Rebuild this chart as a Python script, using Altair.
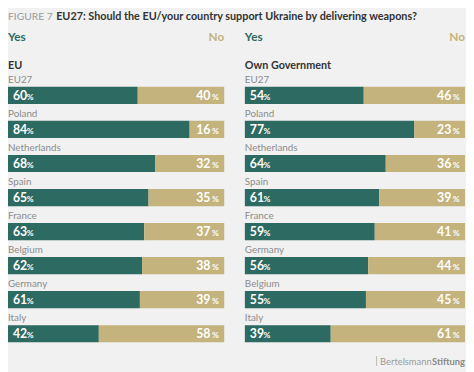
import altair as alt
import pandas as pd

# ---- data ----
eu_countries = ["EU27", "Poland", "Netherlands", "Spain", "France", "Belgium", "Germany", "Italy"]
eu_yes = [60, 84, 68, 65, 63, 62, 61, 42]
eu_no = [40, 16, 32, 35, 37, 38, 39, 58]

gov_countries = ["EU27", "Poland", "Netherlands", "Spain", "France", "Germany", "Belgium", "Italy"]
gov_yes = [54, 77, 64, 61, 59, 56, 55, 39]
gov_no = [46, 23, 36, 39, 41, 44, 45, 61]

panel_titles = ["EU", "Own Government"]
title_prefix = "FIGURE 7"
title_text = "EU27: Should the EU/your country support Ukraine by delivering weapons?"

TEAL = "#2d6a61"
TAN = "#c4b37c"
BG = "#f1f1f1"
FONT = "Lato"

rows = []
for panel, cs, ys, ns in [("EU", eu_countries, eu_yes, eu_no),
                          ("GOV", gov_countries, gov_yes, gov_no)]:
    for i, (c, y, n) in enumerate(zip(cs, ys, ns)):
        rows.append({"panel": panel, "row": i, "country": c, "yes": y, "no": n,
                     "start": 0, "mid": y, "end": y + n})
df = pd.DataFrame(rows)

yscale = alt.Scale(domain=list(range(8)), range=[77, 337], paddingInner=0.495, paddingOuter=0)
Y = alt.Y("row:O", scale=yscale, axis=None)


def panel(name, rng):
    base = alt.Chart(df).transform_filter(alt.datum.panel == name)
    xs = alt.Scale(domain=[0, 100], range=rng, nice=False, zero=False)

    def X(f):
        return alt.X(f"{f}:Q", scale=xs, axis=None)

    yes_bar = base.mark_bar(color=TEAL, cornerRadius=0).encode(x=X("start"), x2="mid", y=Y)
    no_bar = base.mark_bar(color=TAN, cornerRadius=0).encode(x=X("mid"), x2="end", y=Y)
    label = base.mark_text(align="left", baseline="alphabetic", dy=-13, font=FONT,
                           fontSize=10, color="#8c8c8c").encode(x=X("start"), y=Y, text="country:N")
    yes_num = base.mark_text(align="left", baseline="alphabetic", dx=5, dy=4.5, font=FONT,
                             fontWeight="bold", fontSize=12.5, color="white").encode(
        x=X("start"), y=Y, text="yes:N")
    yes_pct = base.mark_text(align="left", baseline="alphabetic", dx=19, dy=4.5, font=FONT,
                             fontWeight="bold", fontSize=8.5, color="white").encode(
        x=X("start"), y=Y, text=alt.value("%"))
    no_num = base.mark_text(align="right", baseline="alphabetic", dx=-14, dy=4.5, font=FONT,
                            fontWeight="bold", fontSize=12.5, color="white").encode(
        x=X("end"), y=Y, text="no:N")
    no_pct = base.mark_text(align="right", baseline="alphabetic", dx=-5.5, dy=4.5, font=FONT,
                            fontWeight="bold", fontSize=8.5, color="white").encode(
        x=X("end"), y=Y, text=alt.value("%"))
    return alt.layer(yes_bar, no_bar, label, yes_num, yes_pct, no_num, no_pct)


one = pd.DataFrame({"k": [0]})


def txt(s, x, y, size, color, weight="normal", align="left"):
    return alt.Chart(one).mark_text(align=align, baseline="alphabetic", font=FONT,
                                    fontSize=size, fontWeight=weight, color=color).encode(
        x=alt.value(x), y=alt.value(y), text=alt.value(s))


statics = [
    txt(title_prefix, 0, 9, 10.5, "#9a9a9a"),
    txt(title_text, 49, 9, 11, "#333333", "bold"),
    txt("Yes", 0, 30, 12, TEAL, "bold"),
    txt("No", 220, 30, 12, TAN, "bold", "right"),
    txt("Yes", 241, 30, 12, TEAL, "bold"),
    txt("No", 465, 30, 12, TAN, "bold", "right"),
    txt(panel_titles[0], 0, 59, 11, "#333333", "bold"),
    txt(panel_titles[1], 241, 59, 11, "#333333", "bold"),
    txt("Stiftung", 465, 360, 9.5, "#8a8a8a", "bold", "right"),
    txt("Bertelsmann", 431, 360, 9.5, "#9a9a9a", "normal", "right"),
    alt.Chart(one).mark_rule(color="#bbbbbb", strokeWidth=1).encode(
        x=alt.value(375), y=alt.value(351), y2=alt.value(361)),
]

chart = alt.layer(panel("EU", [0, 220]), panel("GOV", [241, 465]), *statics).resolve_scale(
    x="independent"
).properties(
    width=466, height=364, autosize=alt.AutoSizeParams(type="none"), padding=0,
    background=BG
).configure_view(strokeWidth=0)

chart.save("out.html", embed_options={"renderer": "svg", "actions": False})
